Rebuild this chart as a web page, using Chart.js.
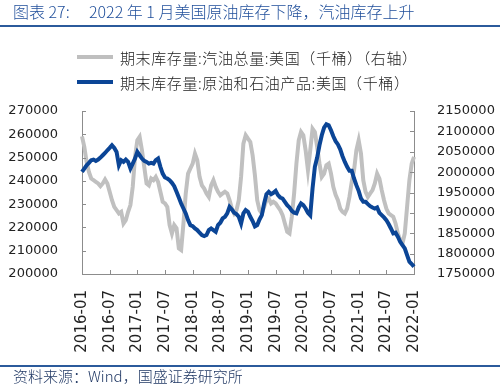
<!DOCTYPE html>
<html><head><meta charset="utf-8">
<script src="https://cdn.jsdelivr.net/npm/chart.js@4"></script>
<style>
html,body{margin:0;padding:0;background:#fff;}
#wrap{position:relative;width:500px;height:385px;overflow:hidden;font-family:"Noto Sans CJK SC",sans-serif;}
canvas{position:absolute;left:0;top:0;}
.t{position:absolute;top:0px;font-size:16px;line-height:22px;color:#1f4e9a;white-space:pre;font-weight:300;}
.rule{position:absolute;left:0;width:500px;height:2px;background:#2b5a9b;}
.leg{position:absolute;left:77px;height:22px;display:flex;align-items:center;font-size:15px;letter-spacing:0.6px;color:#222;white-space:nowrap;font-weight:300;}
.leg i{display:inline-block;width:36px;height:4px;margin-right:7px;}
.foot{position:absolute;left:13px;top:365px;font-size:15px;line-height:22px;color:#203864;white-space:pre;font-weight:300;}
</style></head>
<body><div id="wrap">
<canvas id="c" width="500" height="385"></canvas>
<div class="t" style="left:13px">图表 27:</div>
<div class="t" style="left:89px">2022 年 1 月美国原油库存下降，汽油库存上升</div>
<div class="rule" style="top:25px"></div>
<div class="leg" style="top:46px"><i style="background:#bfbfbf"></i><span id="l1"></span></div>
<div class="leg" style="top:71px"><i style="background:#0b4596"></i><span id="l2"></span></div>
<div class="rule" style="top:365px"></div>
<div class="foot">资料来源：Wind，国盛证券研究所</div>
</div>
<script>
// semi-monthly periods from 2016-01-01 to 2022-01-01
const periods = [];
for (let y = 2016; y <= 2022; y++) {
  for (let m = 1; m <= 12; m++) {
    const mm = (m < 10 ? '0' : '') + m;
    periods.push(y + '-' + mm + '-01');
    if (y === 2022) break;
    periods.push(y + '-' + mm + '-16');
  }
}
const seriesNames = ['期末库存量:汽油总量:美国（千桶）（右轴）', '期末库存量:原油和石油产品:美国（千桶）'];
// gasoline total stocks (left axis, thousand barrels)
const gasoline = [
  259100,254600,248100,243800,241000,240300,239600,238900,237700,238900,240600,238900,
  235300,231700,228800,227400,226000,226700,221700,223100,226700,229600,237400,250300,
  257400,258900,253100,246000,238900,238100,241000,240300,241700,239600,235300,231000,
  230300,228800,221000,217400,221000,219600,211000,210300,221700,234600,243100,245300,
  247400,251700,248900,241700,238100,236700,234600,233100,238100,240300,237400,235300,
  233800,234600,235300,234600,231700,228100,226000,227400,231700,241700,256000,259600,
  258100,256700,251000,242400,231700,227400,226000,228800,231700,232400,230300,231000,
  230300,228800,227400,225300,221700,218100,217400,224600,234600,247400,257400,261000,
  259600,253100,244600,253100,262400,261000,254600,247400,241700,243100,246700,247400,
  243100,237400,234000,231700,228100,226700,226000,228100,233100,239600,244600,253100,
  257400,251700,240300,235300,233100,234600,236000,238900,243100,241000,236000,231700,
  228100,226000,225300,224600,221700,217400,214600,213100,217400,228800,240300,247400,
  250300
];
// crude oil and petroleum products stocks (right axis, thousand barrels)
const crudeAndProducts = [
  2000600,2008800,2016900,2022700,2029200,2030800,2027600,2030800,2035700,2041400,2047100,2053700,
  2059400,2065900,2059400,2049600,2016900,2029200,2025100,2030800,2025100,2008800,2021000,2033300,
  2049600,2041400,2033300,2027600,2025100,2021000,2022700,2021000,2029200,2033300,2012900,1996500,
  1986700,1984300,1980200,1973700,1965500,1951600,1937800,1923100,1910800,1898600,1882300,1870000,
  1867600,1861800,1857800,1851300,1845500,1843100,1845500,1857800,1861800,1857800,1853700,1870000,
  1875700,1886300,1890400,1898600,1914900,1908400,1900200,1897000,1890400,1874100,1898600,1906700,
  1902700,1890400,1880000,1866800,1870000,1883900,1894500,1923100,1945900,1951600,1945900,1949200,
  1954100,1943500,1937800,1935300,1927100,1919000,1913300,1905100,1900200,1898600,1913300,1923100,
  1919000,1910800,1900000,1894000,1960000,2012900,2035700,2065900,2090400,2109200,2117300,2114900,
  2102700,2088000,2076000,2068000,2056000,2039000,2025100,2012900,2003100,2003100,1984300,1968000,
  1954100,1935300,1927100,1927100,1921400,1916500,1913300,1910800,1913300,1900200,1894500,1888800,
  1882300,1872500,1861800,1849600,1851300,1841400,1829200,1821000,1812900,1796500,1780200,1774500,
  1768000
];
const leftTicks = {min: 200000, max: 270000, step: 10000};
const rightTicks = {min: 1750000, max: 2150000, step: 50000};

document.getElementById('l1').textContent = seriesNames[0];
document.getElementById('l2').textContent = seriesNames[1];

const AX = '#8c8c8c';
const plain = v => String(Math.round(v));
const innerTicks = {
  id: 'innerTicks',
  afterDraw(chart) {
    const {ctx, chartArea: a, scales} = chart;
    ctx.save();
    ctx.strokeStyle = AX; ctx.lineWidth = 1;
    ctx.beginPath();
    scales.y.ticks.forEach(t => {
      const y = Math.round(scales.y.getPixelForValue(t.value)) + 0.5;
      ctx.moveTo(a.left, y); ctx.lineTo(a.left + 4, y);
    });
    scales.y1.ticks.forEach(t => {
      const y = Math.round(scales.y1.getPixelForValue(t.value)) + 0.5;
      ctx.moveTo(a.right, y); ctx.lineTo(a.right - 4, y);
    });
    periods.forEach((p, i) => {
      if (i % 12 === 0) {
        const x = Math.round(scales.x.getPixelForValue(i)) + 0.5;
        ctx.moveTo(x, a.bottom); ctx.lineTo(x, a.bottom - 4);
      }
    });
    ctx.stroke();
    ctx.restore();
  }
};

new Chart(document.getElementById('c'), {
  type: 'line',
  data: {
    labels: periods,
    datasets: [
      {label: seriesNames[1], data: crudeAndProducts, yAxisID: 'y1', borderColor: '#0b4596', borderWidth: 4, pointRadius: 0, tension: 0, order: 1},
      {label: seriesNames[0], data: gasoline, yAxisID: 'y', borderColor: '#c0c0c0', borderWidth: 4, pointRadius: 0, tension: 0, order: 2}
    ]
  },
  options: {
    responsive: false, animation: false, devicePixelRatio: 1,
    layout: {padding: {top: 111, bottom: 0, left: 0, right: 0}},
    plugins: {legend: {display: false}, tooltip: {enabled: false}},
    scales: {
      x: {
        type: 'category', offset: false,
        grid: {display: false},
        border: {display: true, color: AX, width: 1},
        ticks: {
          autoSkip: false, maxRotation: 90, minRotation: 90, padding: 8,
          color: '#222', font: {family: 'DejaVu Sans', size: 15},
          callback: function(v, i) { return i % 12 === 0 ? periods[i].slice(0, 7) : ''; }
        },
        afterFit: s => { s.height = 111; }
      },
      y: {
        position: 'left', min: leftTicks.min, max: leftTicks.max,
        grid: {display: false},
        border: {display: true, color: AX, width: 1},
        ticks: {stepSize: leftTicks.step, padding: 16, color: '#222', font: {family: 'DejaVu Sans', size: 13}, callback: plain},
        afterFit: s => { s.width = 82; }
      },
      y1: {
        position: 'right', min: rightTicks.min, max: rightTicks.max,
        grid: {display: false},
        border: {display: true, color: AX, width: 1},
        ticks: {stepSize: rightTicks.step, padding: 15, color: '#222', font: {family: 'DejaVu Sans', size: 13}, callback: plain},
        afterFit: s => { s.width = 86; }
      }
    }
  },
  plugins: [innerTicks]
});
</script>
</body></html>
